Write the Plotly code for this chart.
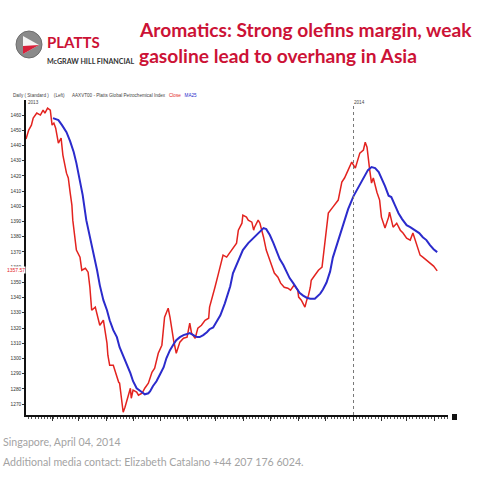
import plotly.graph_objects as go

# ---------------- data ----------------
close_dates = [
    "2013-01-02","2013-01-05","2013-01-08","2013-01-10","2013-01-14","2013-01-18","2013-01-21","2013-01-23",
    "2013-01-26","2013-01-29","2013-01-31","2013-02-02","2013-02-04","2013-02-07","2013-02-10","2013-02-12",
    "2013-02-16","2013-02-18","2013-02-20","2013-02-22","2013-02-23","2013-02-27","2013-03-03","2013-03-05",
    "2013-03-09","2013-03-12","2013-03-14","2013-03-16","2013-03-20","2013-03-23","2013-03-25","2013-03-29",
    "2013-04-02","2013-04-03","2013-04-05","2013-04-09","2013-04-13","2013-04-15","2013-04-16","2013-04-18",
    "2013-04-20","2013-04-22","2013-04-26","2013-04-28","2013-04-29","2013-05-01","2013-05-05","2013-05-07",
    "2013-05-11","2013-05-14","2013-05-18","2013-05-22","2013-05-25","2013-05-29","2013-06-02","2013-06-05",
    "2013-06-09","2013-06-11","2013-06-15","2013-06-18","2013-06-22","2013-06-26","2013-06-30","2013-07-03",
    "2013-07-05","2013-07-09","2013-07-12","2013-07-16","2013-07-20","2013-07-24","2013-07-25","2013-07-29",
    "2013-07-31","2013-08-04","2013-08-07","2013-08-09","2013-08-13","2013-08-17","2013-08-20","2013-08-24",
    "2013-08-26","2013-08-30","2013-08-31","2013-09-04","2013-09-06","2013-09-10","2013-09-12","2013-09-13",
    "2013-09-17","2013-09-19","2013-09-23","2013-09-26","2013-09-30","2013-10-05","2013-10-09","2013-10-12",
    "2013-10-16","2013-10-20","2013-10-23","2013-10-27","2013-10-31","2013-11-01","2013-11-04","2013-11-08",
    "2013-11-10","2013-11-12","2013-11-14","2013-11-15","2013-11-19","2013-11-23","2013-11-27","2013-11-30",
    "2013-12-04","2013-12-09","2013-12-15","2013-12-19","2013-12-22","2013-12-26","2013-12-30","2014-01-03",
    "2014-01-06","2014-01-08","2014-01-12","2014-01-14","2014-01-16","2014-01-17","2014-01-19","2014-01-21",
    "2014-01-23","2014-01-27","2014-01-30","2014-02-01","2014-02-05","2014-02-09","2014-02-10","2014-02-14",
    "2014-02-18","2014-02-22","2014-02-25","2014-03-01","2014-03-05","2014-03-08","2014-03-12","2014-03-16",
    "2014-03-19","2014-03-23","2014-03-27","2014-03-31","2014-04-04",
]
close_values = [
    1444.2,1450.1,1453.4,1458.0,1461.3,1460.0,1463.3,1461.3,
    1464.6,1463.3,1453.4,1454.7,1451.4,1441.6,1444.9,1433.7,
    1421.8,1418.6,1409.3,1400.8,1390.9,1371.2,1366.6,1358.0,
    1359.3,1356.7,1346.8,1331.7,1333.7,1327.1,1321.8,1325.1,
    1310.0,1302.1,1295.5,1295.5,1287.6,1284.3,1283.7,1274.5,
    1264.6,1267.9,1277.1,1280.4,1273.8,1279.1,1277.8,1275.8,
    1277.1,1280.4,1283.7,1290.9,1293.6,1303.4,1308.7,1327.1,
    1333.0,1327.1,1312.0,1303.4,1310.7,1313.3,1314.0,1323.2,
    1316.6,1313.3,1319.9,1321.8,1325.1,1326.4,1333.7,1341.6,
    1346.8,1356.1,1364.6,1367.9,1366.6,1369.9,1373.2,1375.8,
    1384.3,1388.9,1394.2,1392.9,1390.9,1389.6,1384.3,1386.3,
    1390.9,1388.9,1379.7,1371.2,1364.6,1356.1,1353.4,1349.5,
    1346.8,1346.2,1344.9,1348.2,1344.9,1340.3,1338.3,1333.7,
    1338.3,1341.6,1346.8,1351.4,1354.7,1358.0,1360.0,1374.5,
    1395.5,1399.5,1404.1,1415.9,1418.6,1423.8,1429.1,1425.1,
    1430.4,1435.0,1437.0,1442.2,1438.9,1432.4,1423.8,1415.3,
    1418.6,1409.3,1404.1,1392.9,1385.7,1392.9,1396.2,1386.3,
    1388.9,1384.3,1382.4,1379.1,1377.8,1382.4,1375.8,1367.9,
    1366.6,1364.6,1362.6,1360.7,1357.57,
]

ma25_dates = [
    "2013-02-01","2013-02-07","2013-02-11","2013-02-16","2013-02-20","2013-02-24","2013-02-27","2013-03-03",
    "2013-03-06","2013-03-10","2013-03-14","2013-03-18","2013-03-22","2013-03-25","2013-03-29","2013-04-02",
    "2013-04-05","2013-04-09","2013-04-13","2013-04-16","2013-04-20","2013-04-24","2013-04-28","2013-05-01",
    "2013-05-05","2013-05-11","2013-05-14","2013-05-18","2013-05-20","2013-05-23","2013-05-27","2013-05-31",
    "2013-06-04","2013-06-07","2013-06-11","2013-06-15","2013-06-18","2013-06-22","2013-06-26","2013-06-30",
    "2013-07-03","2013-07-07","2013-07-11","2013-07-14","2013-07-18","2013-07-22","2013-07-25","2013-07-29",
    "2013-08-06","2013-08-11","2013-08-17","2013-08-20","2013-08-26","2013-08-31","2013-09-06","2013-09-12",
    "2013-09-17","2013-09-23","2013-09-26","2013-09-30","2013-10-04","2013-10-08","2013-10-11","2013-10-15",
    "2013-10-19","2013-10-22","2013-10-26","2013-10-30","2013-11-02","2013-11-06","2013-11-10","2013-11-14",
    "2013-11-19","2013-11-25","2013-11-28","2013-12-02","2013-12-06","2013-12-09","2013-12-15","2013-12-21",
    "2013-12-26","2014-01-01","2014-01-06","2014-01-10","2014-01-14","2014-01-17","2014-01-21","2014-01-25",
    "2014-01-29","2014-02-01","2014-02-05","2014-02-09","2014-02-12","2014-02-16","2014-02-20","2014-02-24",
    "2014-03-01","2014-03-05","2014-03-10","2014-03-15","2014-03-19","2014-03-23","2014-03-27","2014-03-31",
    "2014-04-04",
]
ma25_values = [
    1458.0,1456.7,1453.4,1448.8,1442.9,1435.7,1428.4,1417.2,
    1407.4,1390.9,1380.4,1367.9,1358.0,1348.2,1338.3,1331.7,
    1325.1,1318.6,1314.0,1307.4,1302.1,1296.2,1290.3,1285.0,
    1280.4,1277.8,1276.4,1277.1,1278.4,1281.7,1285.0,1289.6,
    1294.2,1300.1,1305.4,1309.3,1312.0,1314.0,1315.3,1316.0,
    1316.6,1315.3,1314.0,1314.0,1315.3,1317.2,1319.2,1320.4,
    1328.3,1336.2,1347.4,1355.9,1364.6,1371.2,1375.8,1379.1,
    1382.4,1385.7,1385.0,1381.1,1375.8,1369.9,1365.3,1361.4,
    1356.7,1352.8,1349.5,1346.2,1343.2,1341.3,1339.9,1339.3,
    1339.3,1342.6,1345.3,1349.9,1357.2,1366.3,1377.1,1388.2,
    1398.1,1406.7,1412.0,1416.0,1419.9,1423.8,1425.8,1425.1,
    1422.5,1418.6,1413.3,1407.0,1406.1,1400.8,1395.5,1391.6,
    1387.6,1386.3,1384.3,1382.4,1379.7,1377.8,1374.5,1371.8,
    1369.9,
]

y_tick_values = [1270, 1280, 1290, 1300, 1310, 1320, 1330, 1340, 1350, 1360,
                 1370, 1380, 1390, 1400, 1410, 1420, 1430, 1440, 1450, 1460]
last_close_label = "1357.57"
year_marker = "2014-01-01"

# ---------------- layout helpers (pixel -> paper) ----------------
L, R, T, B = 26, 448, 100, 415
W, H = 480, 480

def px(x):
    return (x - L) / (R - L)

def py(y):
    return (B - y) / (B - T)

RED = "#e3231f"
BLUE = "#2b2bcc"
TITLE_RED = "#cc1236"
TFONT = "Lato, sans-serif"
SMALL = "Liberation Sans, Arial, sans-serif"

fig = go.Figure()
fig.add_trace(go.Scatter(x=close_dates, y=close_values, mode="lines",
                         line=dict(color=RED, width=1.5), name="Close"))
fig.add_trace(go.Scatter(x=ma25_dates, y=ma25_values, mode="lines",
                         line=dict(color=BLUE, width=2), name="MA25"))

shapes = [
    # 2014 divider
    dict(type="line", xref="x", yref="paper", x0=year_marker, x1=year_marker,
         y0=0, y1=py(106), line=dict(color="#777777", width=1, dash="dot")),
    # logo sphere
    dict(type="circle", xref="paper", yref="paper", x0=px(16), x1=px(42), y0=py(58), y1=py(31),
         fillcolor="#8a8a8a", line=dict(color="#6e6e6e", width=1)),
    dict(type="path", xref="paper", yref="paper",
         path=f"M {px(23)},{py(36)} L {px(39)},{py(45)} L {px(23)},{py(54)} Z",
         fillcolor="#f4f4f4", line=dict(width=0)),
    dict(type="path", xref="paper", yref="paper",
         path=f"M {px(23)},{py(46)} L {px(39)},{py(45)} L {px(23)},{py(54)} Z",
         fillcolor="#d8203a", line=dict(width=0)),
    # small end marker of x axis
    dict(type="rect", xref="paper", yref="paper", x0=px(452), x1=px(457), y0=py(420), y1=py(414),
         fillcolor="#111111", line=dict(width=0)),
]

ann = []
def note(x, y, text, size, color, family=SMALL, xanchor="left", bgcolor=None):
    d = dict(x=px(x), y=py(y), xref="paper", yref="paper", text=text, showarrow=False,
             xanchor=xanchor, yanchor="middle", borderpad=0,
             font=dict(size=size, color=color, family=family))
    if bgcolor:
        d["bgcolor"] = bgcolor
    ann.append(d)

note(138, 30, "<b>Aromatics: Strong olefins margin, weak</b>", 19.2, TITLE_RED, TFONT)
note(138, 55, "<b>gasoline lead to overhang in Asia</b>", 19.2, TITLE_RED, TFONT)
note(46, 42, "<b>PLATTS</b>", 15, TITLE_RED, TFONT)
note(46, 61, "<b>McGRAW HILL FINANCIAL</b>", 7.1, "#333333", TFONT)
note(12, 95, "Daily ( Standard )    (Left)      AAXVT00 - Platts Global Petrochemical Index   "
     f"<span style='color:{RED}'>Close</span>   <span style='color:{BLUE}'>MA25</span>",
     4.6, "#444444")
note(27, 102, "2013", 4.6, "#444444")
note(353, 102, "2014", 4.6, "#444444")
note(26, 270, last_close_label, 5, RED, xanchor="right", bgcolor="white")
note(2, 442, "Singapore, April 04, 2014", 10.6, "#a3a3a3", TFONT)
note(2, 462, "Additional media contact: Elizabeth Catalano +44 207 176 6024.", 10.6, "#a3a3a3", TFONT)

fig.update_layout(
    width=W, height=H, autosize=False,
    margin=dict(l=L, r=W - R, t=T, b=H - B, pad=0),
    paper_bgcolor="white", plot_bgcolor="white",
    showlegend=False,
    shapes=shapes, annotations=ann,
)
fig.update_xaxes(
    type="date", range=["2013-01-02", "2014-04-16"],
    showgrid=False, zeroline=False, showticklabels=False,
    showline=True, linecolor="#111111", linewidth=1.5,
    ticks="outside", ticklen=4, tickcolor="#333333", tickwidth=1,
    dtick="M1", tick0="2013-01-01",
    minor=dict(ticks="outside", ticklen=2, tickcolor="#555555", dtick=86400000 * 3.5, showgrid=False),
)
fig.update_yaxes(
    range=[1262.8, 1469.9],
    showgrid=False, zeroline=False,
    showline=True, linecolor="#111111", linewidth=1.5,
    ticks="outside", ticklen=2, tickcolor="#333333",
    tickvals=y_tick_values, ticktext=[str(v) for v in y_tick_values],
    tickfont=dict(size=4.8, color="#333333", family=SMALL),
)

fig.write_html("out.html", config={"displayModeBar": False},
               post_script="document.body.style.margin='0';document.body.style.padding='0';")
